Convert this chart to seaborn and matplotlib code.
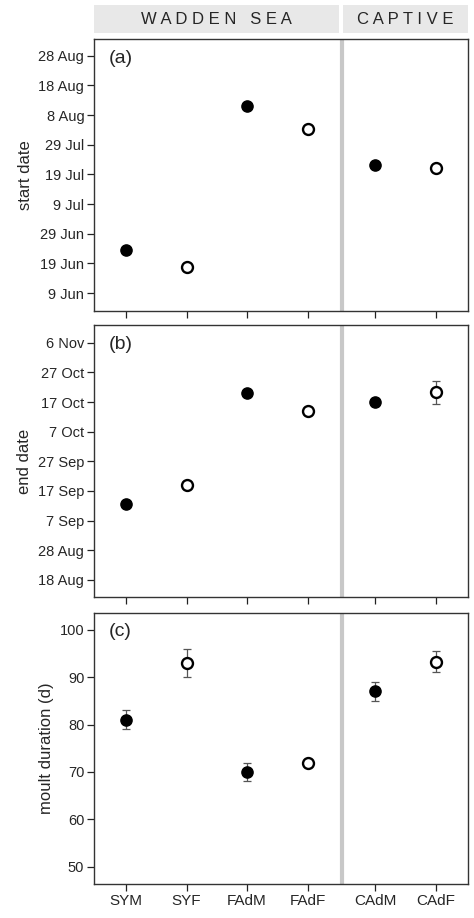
import matplotlib
matplotlib.use("Agg")
import matplotlib.pyplot as plt
import seaborn as sns
import pandas as pd
import numpy as np

sns.set_style("white")
plt.rcParams['font.family'] = ['Liberation Sans', 'DejaVu Sans']

groups = ["SYM", "SYF", "FAdM", "FAdF", "CAdM", "CAdF"]
xpos = [0, 1, 2, 3, 4.12, 5.12]
sex = ["M", "F", "M", "F", "M", "F"]
# day of year
start_doy = [174.5, 168.9, 223.0, 215.2, 203.0, 202.1]
start_err = [0.0, 0.0, 0.0, 0.0, 0.9, 0.7]
end_doy = [255.7, 261.9, 292.9, 287.1, 290.0, 293.3]
end_err = [0.0, 0.0, 0.0, 0.0, 1.5, 3.9]
duration = [81, 93, 70, 72, 87, 93.2]
dur_err = [2.0, 3.0, 2.0, 0.0, 2.0, 2.2]

start_ticks = [160, 170, 180, 190, 200, 210, 220, 230, 240]
start_labels = ["9 Jun", "19 Jun", "29 Jun", "9 Jul", "19 Jul", "29 Jul", "8 Aug", "18 Aug", "28 Aug"]
end_ticks = [230, 240, 250, 260, 270, 280, 290, 300, 310]
end_labels = ["18 Aug", "28 Aug", "7 Sep", "17 Sep", "27 Sep", "7 Oct", "17 Oct", "27 Oct", "6 Nov"]
dur_ticks = [50, 60, 70, 80, 90, 100]

fig = plt.figure(figsize=(4.74, 9.18), dpi=100)
W, H = 474, 918
def rect(x0, y0, x1, y1):
    return [x0 / W, 1 - y1 / H, (x1 - x0) / W, (y1 - y0) / H]

panels = [
    (rect(94, 39, 468, 311), start_doy, start_err, start_ticks, start_labels, (154.0, 245.6), "start date", "(a)"),
    (rect(94, 325, 468, 597), end_doy, end_err, end_ticks, end_labels, (224.2, 316.0), "end date", "(b)"),
    (rect(94, 613, 468, 884), duration, dur_err, dur_ticks, [str(t) for t in dur_ticks], (46.4, 103.5), "moult duration (d)", "(c)"),
]

fs = 10.5
for i, (r, vals, errs, ticks, labels, ylim, ylabel, tag) in enumerate(panels):
    ax = fig.add_axes(r)
    df = pd.DataFrame({"x": xpos, "y": vals, "err": errs, "sex": sex})
    ax.errorbar(df["x"], df["y"], yerr=df["err"], fmt="none", ecolor="#555555",
                elinewidth=0.9, capsize=3, capthick=0.9, zorder=2)
    sns.scatterplot(data=df[df.sex == "M"], x="x", y="y", ax=ax, color="black",
                    edgecolor="black", s=65, linewidth=1.0, zorder=3, legend=False)
    sns.scatterplot(data=df[df.sex == "F"], x="x", y="y", ax=ax, color="white",
                    edgecolor="black", s=62, linewidth=1.7, zorder=3, legend=False)
    ax.axvline(3.56, color="#c8c8c8", lw=3, zorder=1)
    ax.set_xlim(-0.53, 5.65)
    ax.set_ylim(*ylim)
    ax.set_yticks(ticks)
    ax.set_yticklabels(labels, fontsize=fs)
    ax.set_xticks(xpos)
    if i == 2:
        ax.set_xticklabels(groups, fontsize=fs + 0.5)
    else:
        ax.set_xticklabels([])
    ax.set_xlabel("")
    ax.set_ylabel(ylabel, fontsize=fs + 1.5, labelpad=4)
    ax.tick_params(axis="both", direction="out", length=5, width=0.9, color="#222222",
                   left=True, bottom=True, pad=2)
    for s in ax.spines.values():
        s.set_color("#333333")
        s.set_linewidth(1.0)
    ax.text(0.04, 0.93, tag, transform=ax.transAxes, fontsize=fs + 3.5, va="center", ha="left")

# header strips
for (x0, x1, txt) in [(94, 339, "W A D D E N   S E A"), (343, 468, "C A P T I V E")]:
    sax = fig.add_axes(rect(x0, 5, x1, 33))
    sax.set_facecolor("#e8e8e8")
    sax.set_xticks([]); sax.set_yticks([])
    for s in sax.spines.values():
        s.set_visible(False)
    sax.text(0.5, 0.5, txt, transform=sax.transAxes, ha="center", va="center",
             fontsize=12)

fig.savefig("out.png", dpi=100)
